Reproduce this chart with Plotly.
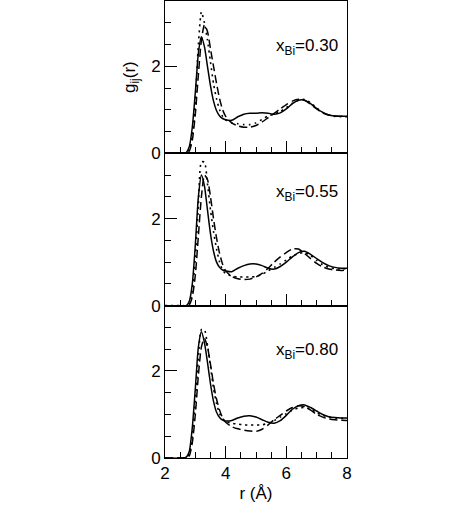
import plotly.graph_objects as go
from plotly.subplots import make_subplots

r = [2.0, 2.6, 2.7, 2.8, 2.9, 3.0, 3.1, 3.2, 3.3, 3.4, 3.5, 3.6, 3.7, 3.8, 3.9, 4.0,
     4.2, 4.4, 4.6, 4.8, 5.0, 5.2, 5.4, 5.6, 5.8, 6.0, 6.2, 6.4, 6.6, 6.8, 7.0, 7.2,
     7.4, 7.6, 7.8, 8.0]

# x_Bi = 0.30
p1_solid = [0, 0, 0.02, 0.15, 0.6, 1.4, 2.3, 2.68, 2.45, 2.0, 1.55, 1.2, 0.98, 0.86, 0.8, 0.77,
            0.76, 0.84, 0.9, 0.92, 0.92, 0.93, 0.92, 0.9, 0.93, 1.02, 1.14, 1.22, 1.22, 1.14, 1.03, 0.94,
            0.88, 0.86, 0.85, 0.85]
p1_dash = [0, 0, 0, 0.05, 0.3, 0.9, 1.8, 2.6, 2.95, 2.8, 2.4, 2.0, 1.6, 1.25, 1.0, 0.85,
           0.7, 0.63, 0.6, 0.6, 0.64, 0.72, 0.82, 0.92, 1.02, 1.12, 1.2, 1.24, 1.22, 1.13, 1.02, 0.93,
           0.88, 0.86, 0.85, 0.85]
p1_dot = [0, 0, 0, 0.08, 0.4, 1.2, 2.5, 3.25, 3.0, 2.6, 2.1, 1.6, 1.25, 1.0, 0.85, 0.77,
          0.7, 0.68, 0.66, 0.66, 0.7, 0.78, 0.86, 0.9, 0.96, 1.05, 1.15, 1.22, 1.24, 1.16, 1.04, 0.94,
          0.88, 0.85, 0.84, 0.84]

# x_Bi = 0.55
p2_solid = [0, 0, 0, 0.1, 0.5, 1.4, 2.5, 3.0, 2.75, 2.2, 1.65, 1.25, 1.0, 0.88, 0.82, 0.8,
            0.78, 0.86, 0.92, 0.96, 0.96, 0.92, 0.86, 0.84, 0.9, 1.0, 1.12, 1.22, 1.25, 1.18, 1.08, 0.99,
            0.92, 0.88, 0.86, 0.86]
p2_dash = [0, 0, 0, 0.02, 0.2, 0.7, 1.6, 2.5, 3.0, 2.9, 2.5, 2.0, 1.55, 1.2, 0.95, 0.8,
           0.67, 0.62, 0.6, 0.61, 0.66, 0.74, 0.86, 1.0, 1.12, 1.22, 1.3, 1.3, 1.2, 1.08, 0.97, 0.89,
           0.84, 0.82, 0.81, 0.82]
p2_dot = [0, 0, 0, 0.05, 0.35, 1.1, 2.3, 3.3, 3.3, 2.8, 2.2, 1.7, 1.3, 1.0, 0.82, 0.74,
          0.68, 0.66, 0.66, 0.66, 0.67, 0.72, 0.8, 0.88, 0.96, 1.05, 1.14, 1.2, 1.22, 1.15, 1.04, 0.94,
          0.88, 0.85, 0.84, 0.85]

# x_Bi = 0.80
p3_solid = [0, 0, 0.02, 0.15, 0.7, 1.6, 2.55, 2.9, 2.65, 2.2, 1.7, 1.3, 1.05, 0.93, 0.87, 0.85,
            0.86, 0.92, 0.96, 0.97, 0.94, 0.88, 0.82, 0.8, 0.86, 0.98, 1.12, 1.2, 1.22, 1.16, 1.08, 1.0,
            0.95, 0.93, 0.92, 0.92]
p3_dash = [0, 0, 0, 0.05, 0.35, 1.0, 1.9, 2.55, 2.75, 2.55, 2.15, 1.7, 1.35, 1.1, 0.92, 0.82,
           0.72, 0.67, 0.64, 0.62, 0.61, 0.66, 0.76, 0.88, 0.98, 1.08, 1.16, 1.2, 1.18, 1.1, 1.0, 0.94,
           0.9, 0.88, 0.87, 0.86]
p3_dot = [0, 0, 0, 0.1, 0.5, 1.3, 2.3, 2.95, 2.95, 2.6, 2.1, 1.6, 1.25, 1.02, 0.9, 0.84,
          0.8, 0.78, 0.76, 0.76, 0.76, 0.76, 0.8, 0.86, 0.94, 1.02, 1.1, 1.15, 1.16, 1.12, 1.04, 0.98,
          0.94, 0.92, 0.91, 0.9]

panels = [(p1_solid, p1_dash, p1_dot, "0.30"),
          (p2_solid, p2_dash, p2_dot, "0.55"),
          (p3_solid, p3_dash, p3_dot, "0.80")]
label_y = [2.45, 2.6, 2.45]

FONT = "Liberation Sans, Arial, sans-serif"

fig = make_subplots(rows=3, cols=1, shared_xaxes=True, vertical_spacing=0)

for i, (s, d, o, lab) in enumerate(panels, start=1):
    for y, dash, w in [(s, "solid", 1.5), (d, "8px,4px", 1.5), (o, "2px,4px", 1.6)]:
        fig.add_trace(go.Scatter(x=r, y=y, mode="lines",
                                 line=dict(color="black", width=w, dash=dash,
                                           shape="spline", smoothing=0.6),
                                 showlegend=False), row=i, col=1)
    fig.add_annotation(x=5.6, y=label_y[i - 1], xref=f"x{i}" if i > 1 else "x",
                       yref=f"y{i}" if i > 1 else "y",
                       text=f"x<sub>Bi</sub>=" + lab, showarrow=False,
                       xanchor="left", yanchor="middle",
                       font=dict(family=FONT, size=17, color="black"))
    fig.update_yaxes(range=[0, 3.5], tickvals=[0, 2], ticks="inside", ticklen=12,
                     tickwidth=1, tickcolor="black", showline=True, linecolor="black",
                     linewidth=1, mirror=True, showgrid=False, zeroline=False,
                     minor=dict(dtick=0.5, tick0=0, ticks="inside", ticklen=6,
                                tickcolor="black", showgrid=False),
                     tickfont=dict(family=FONT, size=17, color="black"),
                     row=i, col=1)
    fig.update_xaxes(range=[2, 8], dtick=2, tick0=2, ticks="inside", ticklen=12,
                     tickwidth=1, tickcolor="black", showline=True, linecolor="black",
                     linewidth=1, mirror=True, showgrid=False, zeroline=False,
                     minor=dict(dtick=0.5, tick0=2, ticks="inside", ticklen=6,
                                tickcolor="black", showgrid=False),
                     tickfont=dict(family=FONT, size=17, color="black"),
                     showticklabels=(i == 3),
                     row=i, col=1)

fig.update_xaxes(title=dict(text="r (Å)", font=dict(family=FONT, size=17, color="black"),
                            standoff=4), row=3, col=1)

fig.add_annotation(x=(131 - 165) / (474 - 165 - 127), y=(511 - 53 - 77) / (511 - 1 - 53),
                   xref="paper", yref="paper", text="g<sub>ij</sub>(r)",
                   xanchor="center", yanchor="middle",
                   showarrow=False, textangle=-90, font=dict(family=FONT, size=17, color="black"))

fig.update_layout(width=474, height=511, margin=dict(l=165, r=127, t=1, b=53),
                  paper_bgcolor="white", plot_bgcolor="white",
                  font=dict(family=FONT, size=17, color="black"))

fig.write_html("out.html")
